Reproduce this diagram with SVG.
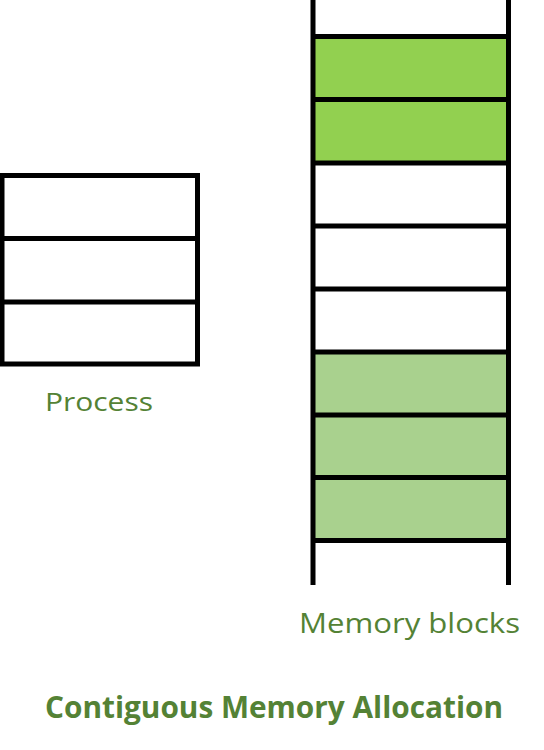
<svg xmlns="http://www.w3.org/2000/svg" width="544" height="750" viewBox="0 0 544 750">
<style>
.ln{stroke:#000;stroke-width:5;fill:none}
.lbl{font-family:"Open Sans","Liberation Sans",sans-serif;fill:#548235}
.b1{fill:#92D050}
.b2{fill:#A9D18E}
</style>
<rect width="544" height="750" fill="#fff"/>
<g id="memory">
<rect class="b1" x="313" y="36.5" width="195.5" height="126.5"/>
<rect class="b2" x="313" y="352" width="195.5" height="188.5"/>
<g class="ln">
<line x1="313" y1="0" x2="313" y2="585"/>
<line x1="508.5" y1="0" x2="508.5" y2="585"/>
<line x1="313" y1="36.5" x2="508.5" y2="36.5"/>
<line x1="313" y1="99.5" x2="508.5" y2="99.5"/>
<line x1="313" y1="163" x2="508.5" y2="163"/>
<line x1="313" y1="226" x2="508.5" y2="226"/>
<line x1="313" y1="289" x2="508.5" y2="289"/>
<line x1="313" y1="352" x2="508.5" y2="352"/>
<line x1="313" y1="415" x2="508.5" y2="415"/>
<line x1="313" y1="477.5" x2="508.5" y2="477.5"/>
<line x1="313" y1="540.5" x2="508.5" y2="540.5"/>
</g>
</g>
<g id="process">
<g class="ln">
<rect x="2" y="175.5" width="195.5" height="188.5"/>
<line x1="2" y1="238.5" x2="197.5" y2="238.5"/>
<line x1="2" y1="302" x2="197.5" y2="302"/>
</g>
</g>
<text class="lbl" x="45" y="411" font-size="26" textLength="108" lengthAdjust="spacingAndGlyphs">Process</text>
<text class="lbl" x="299" y="633" font-size="28" textLength="221" lengthAdjust="spacingAndGlyphs">Memory blocks</text>
<text class="lbl" x="45" y="718" font-size="30" font-weight="bold" textLength="458" lengthAdjust="spacingAndGlyphs">Contiguous Memory Allocation</text>
</svg>
